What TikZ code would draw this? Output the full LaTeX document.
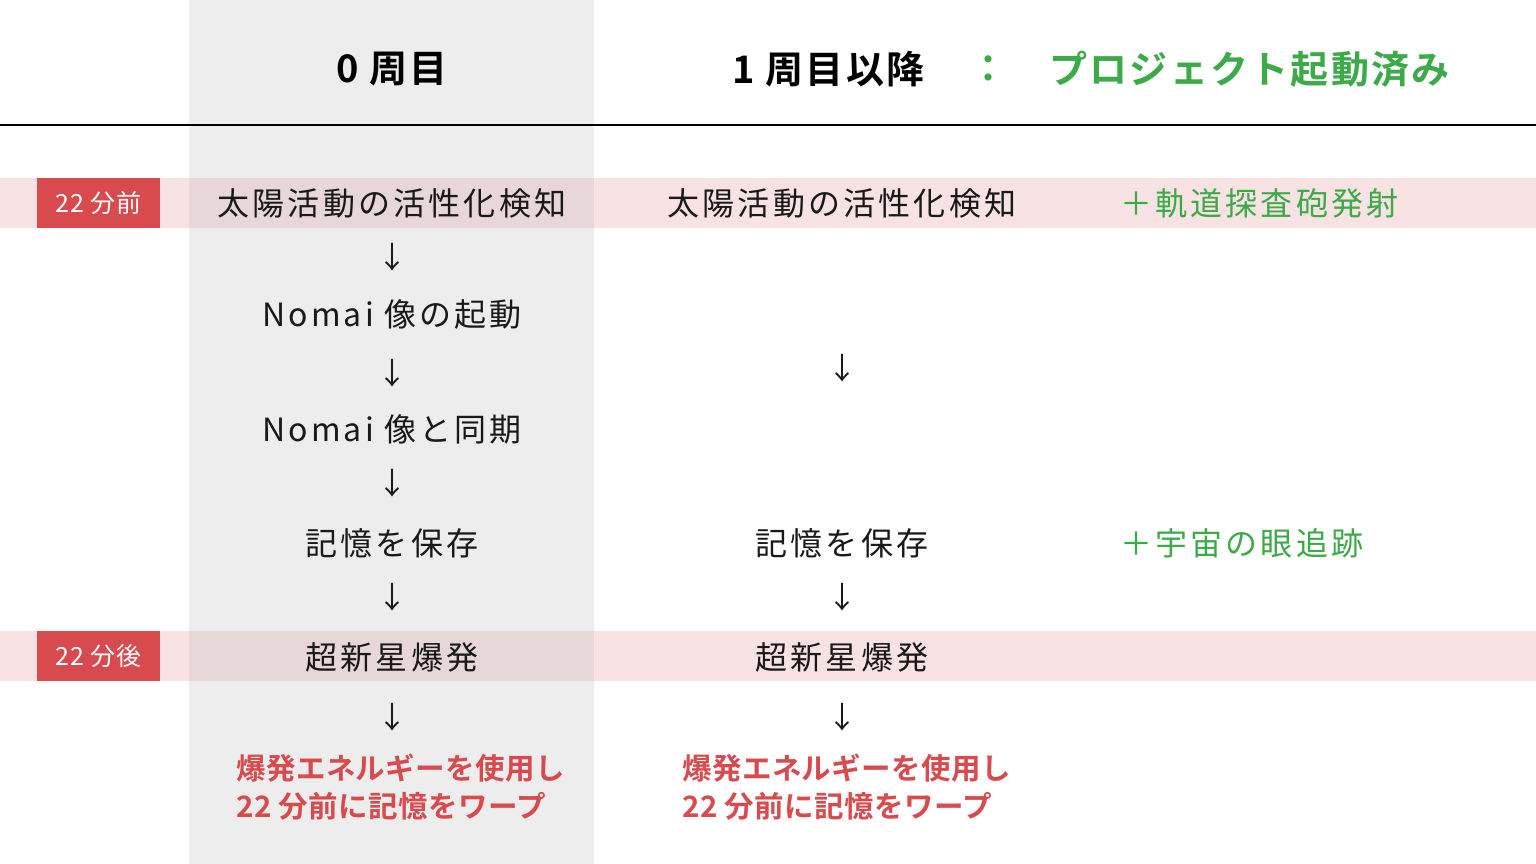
\documentclass[tikz,border=0pt]{standalone}
\usepackage{fontspec}
\setmainfont{Noto Sans CJK JP}
\newfontfamily\bodyf[LetterSpace=10]{Noto Sans CJK JP}
\newfontfamily\tagf[LetterSpace=4]{Noto Sans CJK JP}
\newfontfamily\headf[LetterSpace=6]{Noto Sans CJK JP Bold}
\newfontfamily\redf[LetterSpace=1.5]{Noto Sans CJK JP Bold}
\definecolor{colgray}{HTML}{EDEDED}
\definecolor{bandpink}{HTML}{F8E2E4}
\definecolor{bandover}{HTML}{E8D7D9}
\definecolor{tagred}{HTML}{D94A4E}
\definecolor{txtred}{HTML}{D94A4E}
\definecolor{txtgreen}{HTML}{3CAA48}
\tikzset{
  bodytxt/.style={inner sep=0pt, font=\bodyf\fontsize{32}{38}\selectfont, text=black!90},
  arrowtxt/.style={inner sep=0pt, font=\bodyf\fontsize{30}{36}\selectfont, text=black!90},
  greentxt/.style={inner sep=0pt, anchor=west, font=\bodyf\fontsize{32}{38}\selectfont, text=txtgreen},
  headtxt/.style={inner sep=0pt, font=\headf\fontsize{38}{44}\selectfont},
  redtxt/.style={inner sep=0pt, anchor=north west, align=left, font=\redf\fontsize{29.5}{38}\selectfont, text=txtred},
  tagbox/.style={fill=tagred, text=white, minimum width=123pt, minimum height=50pt, inner sep=0pt, font=\tagf\fontsize{25}{30}\selectfont}
}
\begin{document}
\begin{tikzpicture}[x=1pt,y=-1pt]
\useasboundingbox (0,0) rectangle (1536,864);
\fill[white] (0,0) rectangle (1536,864);
% gray column
\fill[colgray] (189,0) rectangle (594,864);
% pink bands
\fill[bandpink] (0,178) rectangle (1536,228);
\fill[bandpink] (0,631) rectangle (1536,681);
\fill[bandover] (189,178) rectangle (594,228);
\fill[bandover] (189,631) rectangle (594,681);
% header line
\draw[line width=1.4pt] (0,125) -- (1536,125);
% headers
\node[headtxt] (h0) at (392,69) {0 周目};
\node[headtxt, anchor=west] (h1) at (732,69) {1 周目以降};
\node[headtxt, text=txtgreen] (colon) at (988,69) {：};
\node[headtxt, anchor=west, text=txtgreen] (h1b) at (1049,69) {プロジェクト起動済み};
% tags
\node[tagbox] (t1) at (98.5,203) {22 分前};
\node[tagbox] (t2) at (98.5,656) {22 分後};
% column 0
\node[bodytxt] (a1) at (392,203) {太陽活動の活性化検知};
\node[arrowtxt] (a1d) at (392,257) {↓};
\node[bodytxt] (a2) at (392,314) {Nomai 像の起動};
\node[arrowtxt] (a2d) at (392,373) {↓};
\node[bodytxt] (a3) at (392,429) {Nomai 像と同期};
\node[arrowtxt] (a3d) at (392,483) {↓};
\node[bodytxt] (a4) at (392,543) {記憶を保存};
\node[arrowtxt] (a4d) at (392,597) {↓};
\node[bodytxt] (a5) at (392,657) {超新星爆発};
\node[arrowtxt] (a5d) at (392,717) {↓};
\node[redtxt] (a6) at (236,754) {爆発エネルギーを使用し\\22 分前に記憶をワープ};
% column 1
\node[bodytxt] (b1) at (842,203) {太陽活動の活性化検知};
\node[arrowtxt] (b1d) at (842,368) {↓};
\node[bodytxt] (b4) at (842,543) {記憶を保存};
\node[arrowtxt] (b4d) at (842,597) {↓};
\node[bodytxt] (b5) at (842,657) {超新星爆発};
\node[arrowtxt] (b5d) at (842,717) {↓};
\node[redtxt] (b6) at (682,754) {爆発エネルギーを使用し\\22 分前に記憶をワープ};
% green additions
\node[greentxt] (g1) at (1120,203) {＋軌道探査砲発射};
\node[greentxt] (g2) at (1120,543) {＋宇宙の眼追跡};
\end{tikzpicture}
\end{document}
